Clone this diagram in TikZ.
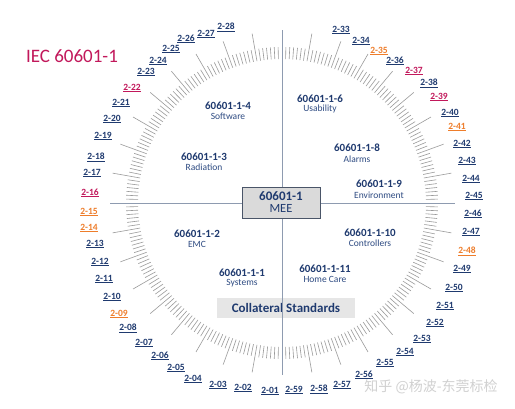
\documentclass[tikz,border=0pt]{standalone}
\usepackage{fontspec}
\setmainfont{Carlito}
\newfontfamily\cjkfont{Noto Sans CJK SC}
\definecolor{navy}{HTML}{1F3A6F}
\definecolor{subnavy}{HTML}{2E4B82}
\definecolor{ora}{HTML}{EE7D2B}
\definecolor{mag}{HTML}{C2185B}
\definecolor{axisc}{HTML}{8E9BB0}
\definecolor{tickc}{HTML}{9A9A9A}
\definecolor{boxfill}{HTML}{DADADA}
\definecolor{boxdraw}{HTML}{4A5568}
\definecolor{collfill}{HTML}{E6E6E6}
\begin{document}
\begin{tikzpicture}[x=1pt,y=-1pt,
  lab/.style={font=\fontsize{9.5}{10}\selectfont\bfseries, text=navy, inner sep=0pt},
  qtitle/.style={font=\fontsize{11}{12}\selectfont\bfseries, text=navy, inner sep=0pt},
  qsub/.style={font=\fontsize{9.5}{10}\selectfont, text=subnavy, inner sep=0pt},
  tickline/.style={draw=tickc, line width=0.6pt},
  longtick/.style={draw=tickc, line width=0.6pt},
  axisline/.style={draw=axisc, line width=1pt}]
\useasboundingbox (0,0) rectangle (515,408);
\fill[white] (0,0) rectangle (515,408);
\coordinate (C) at (282,203);
% small ticks
\foreach \i in {0,...,251}{
  \pgfmathtruncatemacro\m{mod(\i,7)}
  \pgfmathsetmacro\ang{\i*10/7}
  \ifnum\m>0
    \draw[tickline, shift={(C)}] (\ang:144) -- (\ang:156);
  \fi
}
% long ticks
\foreach \k in {0,...,35}{
  \draw[longtick, shift={(C)}] (\k*10:144) -- (\k*10:172);
}
% collateral box
\node[fill=collfill, minimum width=138pt, minimum height=20pt, inner sep=0pt,
      font=\fontsize{13}{13}\selectfont\bfseries, text=navy] (coll) at (286,308) {Collateral Standards};
% axes
\coordinate (hl) at (110,203);
\coordinate (hr) at (455,203);
\coordinate (vt) at (282,30);
\coordinate (vb) at (282,375);
\draw[axisline] (hl) -- (hr);
\draw[axisline] (vt) -- (vb);
% centre box
\node[draw=boxdraw, line width=1pt, fill=boxfill, minimum width=78pt, minimum height=31pt,
      inner sep=0pt, align=center, text=navy, font=\fontsize{13}{12}\selectfont] (mee) at (281,202.5)
      {\textbf{60601-1}\\\fontsize{12.5}{12}\selectfont MEE};
% title
\node[font=\fontsize{19}{20}\selectfont, text=mag, inner sep=0pt] (title) at (72,56) {IEC 60601-1};
% quadrant standards
\node[qtitle] (q4) at (228,106) {60601-1-4};
\node[qsub] (q4s) at (228,116) {Software};
\node[qtitle] (q3) at (204,157) {60601-1-3};
\node[qsub] (q3s) at (204,167) {Radiation};
\node[qtitle] (q2) at (197,234) {60601-1-2};
\node[qsub] (q2s) at (197,244) {EMC};
\node[qtitle] (q1) at (242,273) {60601-1-1};
\node[qsub] (q1s) at (242,283) {Systems};
\node[qtitle] (q6) at (320,99) {60601-1-6};
\node[qsub] (q6s) at (320,109) {Usability};
\node[qtitle] (q8) at (357,148) {60601-1-8};
\node[qsub] (q8s) at (357,159) {Alarms};
\node[qtitle] (q9) at (379,184) {60601-1-9};
\node[qsub] (q9s) at (379,195) {Environment};
\node[qtitle] (q10) at (370,233) {60601-1-10};
\node[qsub] (q10s) at (370,243) {Controllers};
\node[qtitle] (q11) at (325,269) {60601-1-11};
\node[qsub] (q11s) at (325,279) {Home Care};
% particular standards labels
\foreach \n/\x/\y/\c in {01/270/390/navy, 02/243/387/navy, 03/218/384/navy, 04/193/378/navy,
  05/176/367/navy, 06/160/355/navy, 07/144/342/navy, 08/128/327/navy, 09/119/313/ora,
  10/112/296/navy, 11/104/278/navy, 12/100/261/navy, 13/95/243/navy, 14/89/227/ora,
  15/89/211/ora, 16/90/192/mag, 17/92/172/navy, 18/96/156/navy, 19/103/135/navy,
  20/112/118/navy, 21/121/102/navy, 22/132/87/mag, 23/146/71/navy, 24/158/60/navy,
  25/171/48/navy, 26/186/38/navy, 27/206/33/navy, 28/226/26/navy,
  33/341/29/navy, 34/361/40/navy, 35/379/50/ora, 36/395/60/navy, 37/414/70/mag,
  38/429/82/navy, 39/439/96/mag, 40/450/112/navy, 41/457/126/ora, 42/462/143/navy,
  43/467/160/navy, 44/471/178/navy, 45/474/195/navy, 46/473/213/navy, 47/471/231/navy,
  48/467/250/ora, 49/462/268/navy, 50/454/287/navy, 51/445/305/navy, 52/435/322/navy,
  53/422/338/navy, 54/405/351/navy, 55/385/362/navy, 56/364/374/navy, 57/342/384/navy,
  58/319/388/navy, 59/294/389/navy}{
  \node[lab, text=\c] (l\n) at (\x,\y+1) {\underline{2-\n}};
}
% watermark
\node[font=\cjkfont\fontsize{14}{15}\selectfont, text=black!18, inner sep=0pt] (wm) at (431,387) {知乎 @杨波-东莞标检};
\end{tikzpicture}
\end{document}
